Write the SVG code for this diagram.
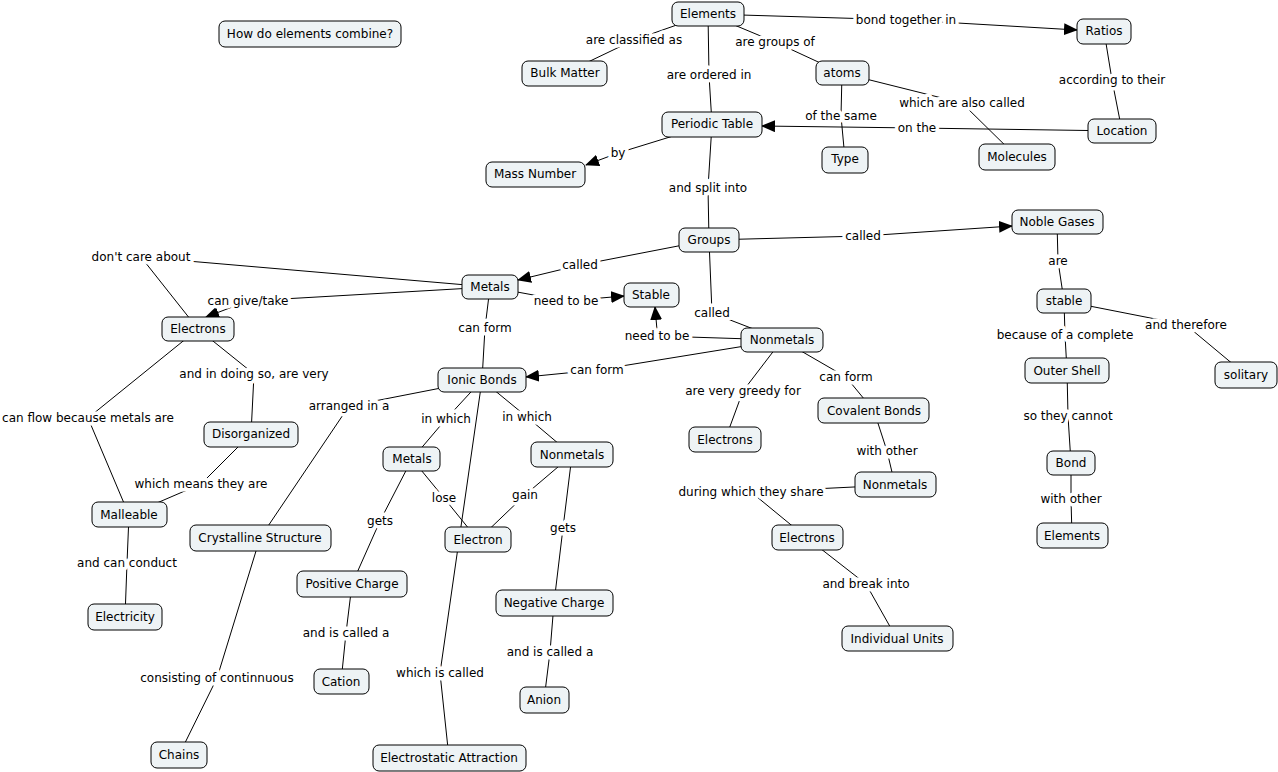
<svg xmlns="http://www.w3.org/2000/svg" width="1278" height="772" viewBox="0 0 1278 772">
<style>
.n rect{fill:#eef3f5;stroke:#000;stroke-width:1}
.n text{font-family:"DejaVu Sans",Verdana,sans-serif;font-size:12px;text-anchor:middle;dominant-baseline:central;fill:#000}
.c line{stroke:#000;stroke-width:1}
.c .a{marker-end:url(#ar)}
.l text{font-family:"DejaVu Sans",Verdana,sans-serif;font-size:12px;text-anchor:middle;dominant-baseline:central;fill:#000;stroke:#fff;stroke-width:7;paint-order:stroke;stroke-linejoin:round}
</style>
<defs><marker id="ar" markerUnits="userSpaceOnUse" markerWidth="14" markerHeight="12" refX="13" refY="6" orient="auto"><path d="M0,0L14,6L0,12z" fill="#000"/></marker></defs>
<rect width="1278" height="772" fill="#fff"/>
<g class="c">
<line x1="708" y1="14" x2="634" y2="40"/><line x1="634" y1="40" x2="565" y2="73"/>
<line x1="708" y1="14" x2="709" y2="75"/><line x1="709" y1="75" x2="712" y2="124"/>
<line x1="708" y1="14" x2="775" y2="42"/><line x1="775" y1="42" x2="842" y2="73"/>
<line x1="708" y1="14" x2="906" y2="20"/><line class="a" x1="906" y1="20" x2="1077" y2="30"/>
<line x1="1104" y1="31" x2="1112" y2="80"/><line x1="1112" y1="80" x2="1122" y2="131"/>
<line x1="1122" y1="131" x2="917" y2="128"/><line class="a" x1="917" y1="128" x2="762" y2="126"/>
<line x1="842" y1="73" x2="841" y2="116"/><line x1="841" y1="116" x2="845" y2="159"/>
<line x1="842" y1="73" x2="962" y2="103"/><line x1="962" y1="103" x2="1017" y2="157"/>
<line x1="712" y1="124" x2="618" y2="153"/><line class="a" x1="618" y1="153" x2="586" y2="165"/>
<line x1="712" y1="124" x2="708" y2="188"/><line x1="708" y1="188" x2="709" y2="240"/>
<line x1="709" y1="240" x2="580" y2="265"/><line class="a" x1="580" y1="265" x2="518" y2="280"/>
<line x1="709" y1="240" x2="863" y2="236"/><line class="a" x1="863" y1="236" x2="1012" y2="226"/>
<line x1="709" y1="240" x2="712" y2="313"/><line x1="712" y1="313" x2="782" y2="340"/>
<line x1="490" y1="287" x2="566" y2="301"/><line class="a" x1="566" y1="301" x2="624" y2="296"/>
<line x1="782" y1="340" x2="657" y2="336"/><line class="a" x1="657" y1="330" x2="655" y2="307"/>
<line x1="490" y1="287" x2="141" y2="257"/><line x1="141" y1="257" x2="198" y2="329"/>
<line x1="490" y1="287" x2="248" y2="301"/><line class="a" x1="248" y1="301" x2="206" y2="317"/>
<line x1="490" y1="287" x2="485" y2="328"/><line x1="485" y1="328" x2="482" y2="380"/>
<line x1="782" y1="340" x2="597" y2="370"/><line class="a" x1="597" y1="370" x2="526" y2="377"/>
<line x1="782" y1="340" x2="743" y2="391"/><line x1="743" y1="391" x2="725" y2="440"/>
<line x1="782" y1="340" x2="846" y2="377"/><line x1="846" y1="377" x2="874" y2="411"/>
<line x1="874" y1="411" x2="887" y2="451"/><line x1="887" y1="451" x2="895" y2="485"/>
<line x1="895" y1="485" x2="751" y2="492"/><line x1="751" y1="492" x2="807" y2="538"/>
<line x1="807" y1="538" x2="866" y2="584"/><line x1="866" y1="584" x2="897" y2="639"/>
<line x1="198" y1="329" x2="254" y2="374"/><line x1="254" y1="374" x2="251" y2="434"/>
<line x1="198" y1="329" x2="88" y2="418"/><line x1="88" y1="418" x2="129" y2="515"/>
<line x1="251" y1="434" x2="201" y2="484"/><line x1="201" y1="484" x2="129" y2="515"/>
<line x1="129" y1="515" x2="127" y2="563"/><line x1="127" y1="563" x2="125" y2="617"/>
<line x1="482" y1="380" x2="349" y2="406"/><line x1="349" y1="406" x2="260" y2="538"/>
<line x1="260" y1="538" x2="217" y2="678"/><line x1="217" y1="678" x2="179" y2="755"/>
<line x1="482" y1="380" x2="446" y2="419"/><line x1="446" y1="419" x2="412" y2="459"/>
<line x1="482" y1="380" x2="527" y2="417"/><line x1="527" y1="417" x2="572" y2="455"/>
<line x1="482" y1="380" x2="440" y2="673"/><line x1="440" y1="673" x2="449" y2="758"/>
<line x1="412" y1="459" x2="444" y2="498"/><line x1="444" y1="498" x2="478" y2="540"/>
<line x1="572" y1="455" x2="525" y2="495"/><line x1="525" y1="495" x2="478" y2="540"/>
<line x1="412" y1="459" x2="380" y2="521"/><line x1="380" y1="521" x2="352" y2="584"/>
<line x1="572" y1="455" x2="563" y2="528"/><line x1="563" y1="528" x2="554" y2="603"/>
<line x1="352" y1="584" x2="346" y2="633"/><line x1="346" y1="633" x2="341" y2="682"/>
<line x1="554" y1="603" x2="550" y2="652"/><line x1="550" y1="652" x2="544" y2="700"/>
<line x1="1057" y1="222" x2="1058" y2="261"/><line x1="1058" y1="261" x2="1064" y2="301"/>
<line x1="1064" y1="301" x2="1065" y2="335"/><line x1="1065" y1="335" x2="1067" y2="371"/>
<line x1="1064" y1="301" x2="1186" y2="325"/><line x1="1186" y1="325" x2="1246" y2="375"/>
<line x1="1067" y1="371" x2="1068" y2="416"/><line x1="1068" y1="416" x2="1071" y2="463"/>
<line x1="1071" y1="463" x2="1071" y2="499"/><line x1="1071" y1="499" x2="1072" y2="536"/>
</g>
<g class="l">
<text x="634" y="40">are classified as</text><text x="709" y="75">are ordered in</text>
<text x="775" y="42">are groups of</text><text x="906" y="20">bond together in</text>
<text x="1112" y="80">according to their</text><text x="917" y="128">on the</text>
<text x="841" y="116">of the same</text><text x="962" y="103">which are also called</text>
<text x="618" y="153">by</text><text x="708" y="188">and split into</text>
<text x="580" y="265">called</text><text x="863" y="236">called</text><text x="712" y="313">called</text>
<text x="566" y="301">need to be</text><text x="657" y="336">need to be</text>
<text x="141" y="257">don't care about</text><text x="248" y="301">can give/take</text>
<text x="485" y="328">can form</text><text x="597" y="370">can form</text>
<text x="743" y="391">are very greedy for</text><text x="846" y="377">can form</text>
<text x="887" y="451">with other</text><text x="751" y="492">during which they share</text>
<text x="866" y="584">and break into</text><text x="254" y="374">and in doing so, are very</text>
<text x="88" y="418">can flow because metals are</text><text x="201" y="484">which means they are</text>
<text x="127" y="563">and can conduct</text><text x="349" y="406">arranged in a</text>
<text x="217" y="678">consisting of continnuous</text><text x="446" y="419">in which</text>
<text x="527" y="417">in which</text><text x="440" y="673">which is called</text>
<text x="444" y="498">lose</text><text x="525" y="495">gain</text>
<text x="380" y="521">gets</text><text x="563" y="528">gets</text>
<text x="346" y="633">and is called a</text><text x="550" y="652">and is called a</text>
<text x="1058" y="261">are</text><text x="1065" y="335">because of a complete</text>
<text x="1186" y="325">and therefore</text><text x="1068" y="416">so they cannot</text>
<text x="1071" y="499">with other</text>
</g>
<g id="n-elements" class="n"><rect x="672" y="2" width="72" height="24" rx="6"/><text x="708" y="14">Elements</text></g>
<g id="n-question" class="n"><rect x="219" y="21" width="182" height="26" rx="6"/><text x="310" y="34">How do elements combine?</text></g>
<g id="n-ratios" class="n"><rect x="1077" y="19" width="54" height="25" rx="6"/><text x="1104" y="31">Ratios</text></g>
<g id="n-bulk" class="n"><rect x="522" y="61" width="85" height="25" rx="6"/><text x="565" y="73">Bulk Matter</text></g>
<g id="n-atoms" class="n"><rect x="816" y="61" width="53" height="24" rx="6"/><text x="842" y="73">atoms</text></g>
<g id="n-ptable" class="n"><rect x="662" y="112" width="100" height="25" rx="6"/><text x="712" y="124">Periodic Table</text></g>
<g id="n-location" class="n"><rect x="1088" y="119" width="68" height="24" rx="6"/><text x="1122" y="131">Location</text></g>
<g id="n-type" class="n"><rect x="822" y="147" width="46" height="26" rx="6"/><text x="845" y="159">Type</text></g>
<g id="n-molecules" class="n"><rect x="979" y="144" width="76" height="26" rx="6"/><text x="1017" y="157">Molecules</text></g>
<g id="n-mass" class="n"><rect x="486" y="162" width="99" height="25" rx="6"/><text x="535" y="174">Mass Number</text></g>
<g id="n-groups" class="n"><rect x="679" y="228" width="60" height="24" rx="6"/><text x="709" y="240">Groups</text></g>
<g id="n-noble" class="n"><rect x="1012" y="210" width="91" height="24" rx="6"/><text x="1057" y="222">Noble Gases</text></g>
<g id="n-metals" class="n"><rect x="462" y="275" width="56" height="24" rx="6"/><text x="490" y="287">Metals</text></g>
<g id="n-stable" class="n"><rect x="624" y="283" width="55" height="24" rx="6"/><text x="651" y="295">Stable</text></g>
<g id="n-electrons1" class="n"><rect x="162" y="317" width="72" height="24" rx="6"/><text x="198" y="329">Electrons</text></g>
<g id="n-nonmetals1" class="n"><rect x="741" y="328" width="82" height="24" rx="6"/><text x="782" y="340">Nonmetals</text></g>
<g id="n-stable2" class="n"><rect x="1037" y="289" width="54" height="24" rx="6"/><text x="1064" y="301">stable</text></g>
<g id="n-ionic" class="n"><rect x="438" y="368" width="88" height="24" rx="6"/><text x="482" y="380">Ionic Bonds</text></g>
<g id="n-outer" class="n"><rect x="1025" y="358" width="84" height="25" rx="6"/><text x="1067" y="371">Outer Shell</text></g>
<g id="n-solitary" class="n"><rect x="1215" y="362" width="62" height="26" rx="6"/><text x="1246" y="375">solitary</text></g>
<g id="n-covalent" class="n"><rect x="818" y="398" width="111" height="25" rx="6"/><text x="874" y="411">Covalent Bonds</text></g>
<g id="n-disorg" class="n"><rect x="204" y="422" width="94" height="25" rx="6"/><text x="251" y="434">Disorganized</text></g>
<g id="n-electrons2" class="n"><rect x="689" y="427" width="72" height="25" rx="6"/><text x="725" y="440">Electrons</text></g>
<g id="n-metals2" class="n"><rect x="383" y="447" width="57" height="24" rx="6"/><text x="412" y="459">Metals</text></g>
<g id="n-nonmetals2" class="n"><rect x="531" y="442" width="82" height="25" rx="6"/><text x="572" y="455">Nonmetals</text></g>
<g id="n-bond" class="n"><rect x="1047" y="451" width="48" height="24" rx="6"/><text x="1071" y="463">Bond</text></g>
<g id="n-nonmetals3" class="n"><rect x="855" y="472" width="81" height="25" rx="6"/><text x="895" y="485">Nonmetals</text></g>
<g id="n-malleable" class="n"><rect x="92" y="502" width="75" height="25" rx="6"/><text x="129" y="515">Malleable</text></g>
<g id="n-crystal" class="n"><rect x="190" y="525" width="141" height="26" rx="6"/><text x="260" y="538">Crystalline Structure</text></g>
<g id="n-electron" class="n"><rect x="445" y="527" width="66" height="25" rx="6"/><text x="478" y="540">Electron</text></g>
<g id="n-electrons3" class="n"><rect x="772" y="525" width="71" height="25" rx="6"/><text x="807" y="538">Electrons</text></g>
<g id="n-elements2" class="n"><rect x="1037" y="523" width="71" height="25" rx="6"/><text x="1072" y="536">Elements</text></g>
<g id="n-positive" class="n"><rect x="297" y="571" width="110" height="26" rx="6"/><text x="352" y="584">Positive Charge</text></g>
<g id="n-negative" class="n"><rect x="496" y="590" width="117" height="26" rx="6"/><text x="554" y="603">Negative Charge</text></g>
<g id="n-electricity" class="n"><rect x="88" y="604" width="74" height="26" rx="6"/><text x="125" y="617">Electricity</text></g>
<g id="n-units" class="n"><rect x="842" y="626" width="111" height="25" rx="6"/><text x="897" y="639">Individual Units</text></g>
<g id="n-cation" class="n"><rect x="314" y="669" width="55" height="25" rx="6"/><text x="341" y="682">Cation</text></g>
<g id="n-anion" class="n"><rect x="520" y="687" width="49" height="26" rx="6"/><text x="544" y="700">Anion</text></g>
<g id="n-chains" class="n"><rect x="151" y="742" width="56" height="26" rx="6"/><text x="179" y="755">Chains</text></g>
<g id="n-electrostatic" class="n"><rect x="373" y="745" width="153" height="26" rx="6"/><text x="449" y="758">Electrostatic Attraction</text></g>
</svg>
